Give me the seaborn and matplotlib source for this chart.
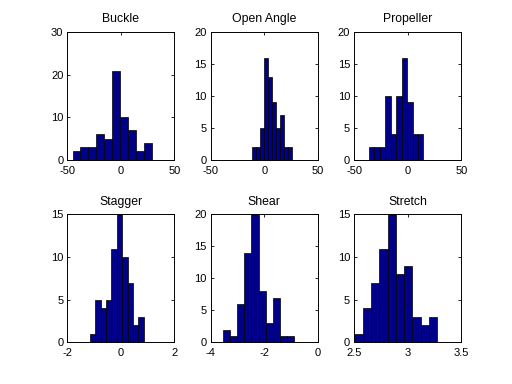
import numpy as np
import matplotlib
matplotlib.use("Agg")
import matplotlib.pyplot as plt
import seaborn as sns
import pandas as pd

titles = ["Buckle", "Open Angle", "Propeller", "Stagger", "Shear", "Stretch"]

buckle_counts = [2, 3, 3, 6, 5, 21, 10, 7, 2, 4]
open_angle_counts = [2, 2, 5, 16, 13, 9, 5, 7, 2, 2]
propeller_counts = [2, 2, 2, 10, 4, 10, 16, 9, 4, 4]
stagger_counts = [1, 5, 4, 5, 11, 15, 10, 7, 2, 3]
shear_counts = [2, 1, 6, 14, 20, 8, 3, 7, 1, 1]
stretch_counts = [1, 4, 7, 11, 15, 8, 9, 3, 2, 3]

# data range (min, max) of each histogram
ranges = [(-45.3, 28.75), (-11.06, 25.7), (-36.3, 14.6),
          (-1.16, 0.846), (-3.527, -0.897), (2.50, 3.276)]

xlims = [(-50, 50), (-50, 50), (-50, 50), (-2, 2), (-4, 0), (2.5, 3.5)]
xticks = [[-50, 0, 50], [-50, 0, 50], [-50, 0, 50], [-2, 0, 2], [-4, -2, 0], [2.5, 3, 3.5]]
xticklabels = [["-50", "0", "50"], ["-50", "0", "50"], ["-50", "0", "50"],
               ["-2", "0", "2"], ["-4", "-2", "0"], ["2.5", "3", "3.5"]]
ylims = [30, 20, 20, 15, 20, 15]
yticks = [[0, 10, 20, 30], [0, 5, 10, 15, 20], [0, 5, 10, 15, 20],
          [0, 5, 10, 15], [0, 5, 10, 15, 20], [0, 5, 10, 15]]

all_counts = [buckle_counts, open_angle_counts, propeller_counts,
              stagger_counts, shear_counts, stretch_counts]

sns.set_theme(style="white")
plt.rcParams.update({
    "font.family": ["Liberation Sans", "DejaVu Sans"],
    "font.size": 8,
    "xtick.direction": "in",
    "ytick.direction": "in",
    "xtick.top": True,
    "ytick.right": True,
    "xtick.bottom": True,
    "ytick.left": True,
    "xtick.major.size": 2.5,
    "ytick.major.size": 2.5,
    "xtick.major.width": 0.6,
    "ytick.major.width": 0.6,
    "xtick.color": "black",
    "ytick.color": "black",
    "axes.edgecolor": "black",
    "axes.linewidth": 0.7,
    "xtick.labelsize": 8,
    "ytick.labelsize": 8,
    "text.color": "black",
})

fig = plt.figure(figsize=(5.12, 3.84), dpi=100)
fig.patch.set_facecolor("white")

lefts = [0.1318, 0.4115, 0.6920]
bottoms = [0.5833, 0.1086]
w, h = 0.209, 0.333

for i in range(6):
    r, c = divmod(i, 3)
    ax = fig.add_axes([lefts[c], bottoms[r], w, h])
    lo, hi = ranges[i]
    n = len(all_counts[i])
    step = (hi - lo) / n
    centers = [lo + step * (k + 0.5) for k in range(n)]
    df = pd.DataFrame({"x": centers, "n": all_counts[i]})
    sns.histplot(data=df, x="x", weights="n", bins=n, binrange=(lo, hi), ax=ax,
                 color="#000088", edgecolor="black", linewidth=0.5, alpha=1.0)
    ax.set_xlim(*xlims[i])
    ax.set_ylim(0, ylims[i])
    ax.set_xticks(xticks[i])
    ax.set_xticklabels(xticklabels[i])
    ax.set_yticks(yticks[i])
    ax.set_xlabel("")
    ax.set_ylabel("")
    ax.set_title(titles[i], fontsize=8.8, pad=7, color="black")
    ax.tick_params(axis="x", pad=4, labelcolor="black")
    ax.tick_params(axis="y", pad=3, labelcolor="black")
    for s in ax.spines.values():
        s.set_visible(True)
        s.set_color("black")

fig.savefig("out.png", dpi=100, facecolor="white")
